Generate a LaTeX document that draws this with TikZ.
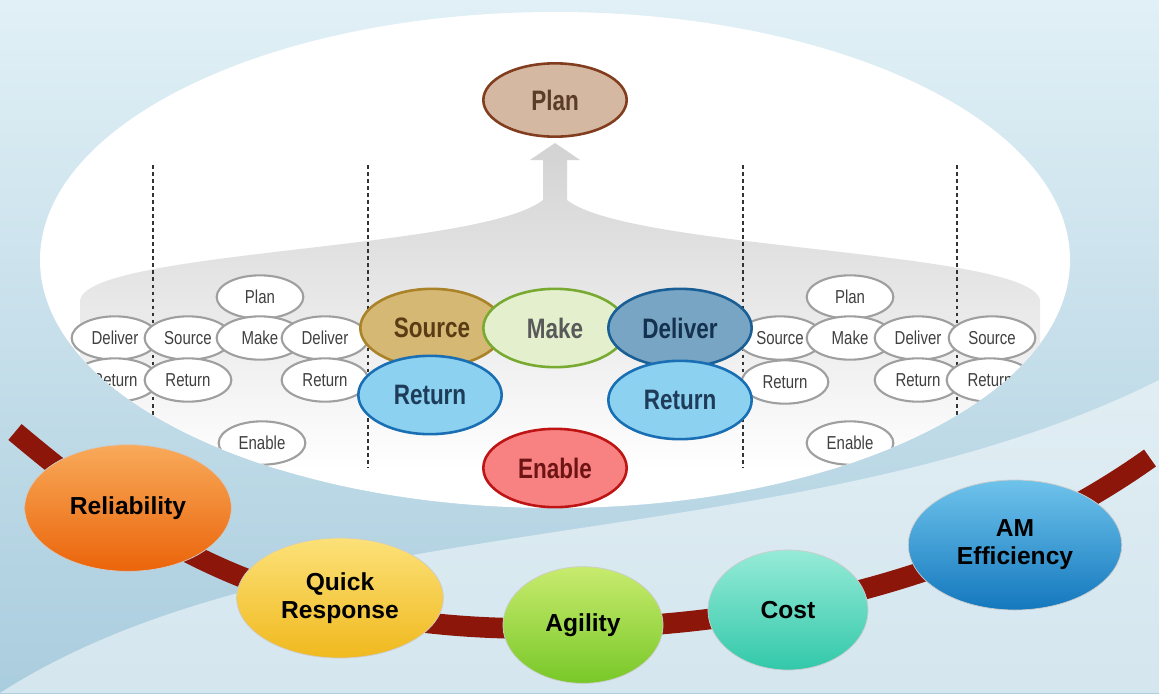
\documentclass[tikz,border=0pt]{standalone}
\usepackage{fontspec}
\setmainfont{Liberation Sans}
\usetikzlibrary{shapes.geometric}
\definecolor{bgA}{RGB}{170,205,222}
\definecolor{bgB}{RGB}{225,240,246}
\definecolor{road}{RGB}{140,22,10}
\newcommand{\cnd}[1]{\scalebox{0.8}[1]{#1}}
\tikzset{
 x=0.03cm,y=-0.03cm,
 big/.style={ellipse,line width=2.2pt,minimum width=4.3cm,minimum height=2.35cm,inner sep=0pt,font=\fontsize{24}{24}\selectfont\bfseries},
 sm/.style={ellipse,draw=gray!75,line width=1.8pt,fill=white,minimum width=2.6cm,minimum height=1.3cm,inner sep=0pt,text=gray!50!black,font=\fontsize{16}{16}\selectfont},
 ball/.style={ellipse,inner sep=0pt,align=center,font=\fontsize{21}{24}\selectfont\bfseries,draw=white!60!gray,line width=0.6pt},
 dsh/.style={dashed,line width=1.2pt,gray!40!black}
}
\begin{document}
\begin{tikzpicture}
\useasboundingbox (0,0) rectangle (1159,693);
\shade[top color=bgB,bottom color=bgA] (0,0) rectangle (1159,693);
\fill[white,opacity=0.5] (0,693) .. controls (300,500) and (800,560) .. (1159,380) -- (1159,693) -- cycle;
\fill[white] (555,260) ellipse [x radius=515,y radius=248];
\begin{scope}
\clip (555,260) ellipse [x radius=515,y radius=248];
\shade[top color=gray!35,bottom color=white] (80,300) .. controls (90,250) and (480,250) .. (543,200) -- (543,160) -- (530,160) -- (555,143) -- (580,160) -- (567,160) -- (567,200) .. controls (630,250) and (1030,250) .. (1040,300) -- (1040,470) -- (80,470) -- cycle;
\foreach \x in {153,368,743,957} \draw[dsh] (\x,165) -- (\x,468);
\node[sm] (lp) at (260,297) {\cnd{Plan}};
\node[sm] (ld1) at (115,338) {\cnd{Deliver}};
\node[sm] (ls) at (188,338) {\cnd{Source}};
\node[sm] (lm) at (260,338) {\cnd{Make}};
\node[sm] (ld2) at (325,338) {\cnd{Deliver}};
\node[sm] (lr1) at (115,380) {\cnd{Return}};
\node[sm] (lr2) at (188,380) {\cnd{Return}};
\node[sm] (lr3) at (325,380) {\cnd{Return}};
\node[sm] (le) at (262,443) {\cnd{Enable}};
\node[sm] (rp) at (850,297) {\cnd{Plan}};
\node[sm] (rs1) at (780,338) {\cnd{Source}};
\node[sm] (rm) at (850,338) {\cnd{Make}};
\node[sm] (rd) at (918,338) {\cnd{Deliver}};
\node[sm] (rs2) at (992,338) {\cnd{Source}};
\node[sm] (rr1) at (785,382) {\cnd{Return}};
\node[sm] (rr2) at (918,380) {\cnd{Return}};
\node[sm] (rr3) at (990,380) {\cnd{Return}};
\node[sm] (re) at (850,443) {\cnd{Enable}};
\end{scope}
\node[big,fill={rgb,255:red,212;green,184;blue,116},draw={rgb,255:red,170;green,130;blue,40},text={rgb,255:red,90;green,60;blue,20}] (src) at (432,328) {\cnd{Source}};
\node[big,fill={rgb,255:red,228;green,240;blue,205},draw={rgb,255:red,120;green,170;blue,50},text=gray!70!black] (mk) at (555,328) {\cnd{Make}};
\node[big,fill={rgb,255:red,120;green,165;blue,195},draw={rgb,255:red,25;green,95;blue,150},text={rgb,255:red,20;green,50;blue,80}] (dl) at (680,328) {\cnd{Deliver}};
\node[big,fill={rgb,255:red,140;green,210;blue,240},draw={rgb,255:red,25;green,110;blue,180},text={rgb,255:red,30;green,60;blue,90}] (r1) at (430,395) {\cnd{Return}};
\node[big,fill={rgb,255:red,140;green,210;blue,240},draw={rgb,255:red,25;green,110;blue,180},text={rgb,255:red,30;green,60;blue,90}] (r2) at (680,400) {\cnd{Return}};
\node[big,fill={rgb,255:red,248;green,130;blue,130},draw={rgb,255:red,190;green,20;blue,20},text={rgb,255:red,110;green,20;blue,20}] (en) at (555,468) {\cnd{Enable}};
\node[big,minimum height=2.2cm,fill={rgb,255:red,212;green,184;blue,162},draw={rgb,255:red,130;green,60;blue,30},text={rgb,255:red,90;green,60;blue,40}] (pl) at (555,100) {\cnd{Plan}};
\draw[road,line width=0.62cm] (15,432) .. controls (120,520) and (250,620) .. (500,628) .. controls (700,635) and (950,600) .. (1150,458);
\node[ball,minimum width=6.2cm,minimum height=3.8cm,top color={rgb,255:red,248;green,170;blue,90},bottom color={rgb,255:red,235;green,100;blue,10}] (rel) at (128,508) {Reliability};
\node[ball,minimum width=6.2cm,minimum height=3.6cm,top color={rgb,255:red,252;green,225;blue,120},bottom color={rgb,255:red,240;green,185;blue,30}] (qr) at (340,598) {Quick\\Response};
\node[ball,minimum width=4.8cm,minimum height=3.5cm,top color={rgb,255:red,200;green,235;blue,110},bottom color={rgb,255:red,120;green,200;blue,40}] (ag) at (583,625) {Agility};
\node[ball,minimum width=4.8cm,minimum height=3.6cm,top color={rgb,255:red,150;green,235;blue,215},bottom color={rgb,255:red,50;green,200;blue,170}] (co) at (788,610) {Cost};
\node[ball,minimum width=6.4cm,minimum height=3.9cm,top color={rgb,255:red,110;green,195;blue,235},bottom color={rgb,255:red,20;green,120;blue,190}] (am) at (1015,545) {AM\\Efficiency};
\end{tikzpicture}
\end{document}
